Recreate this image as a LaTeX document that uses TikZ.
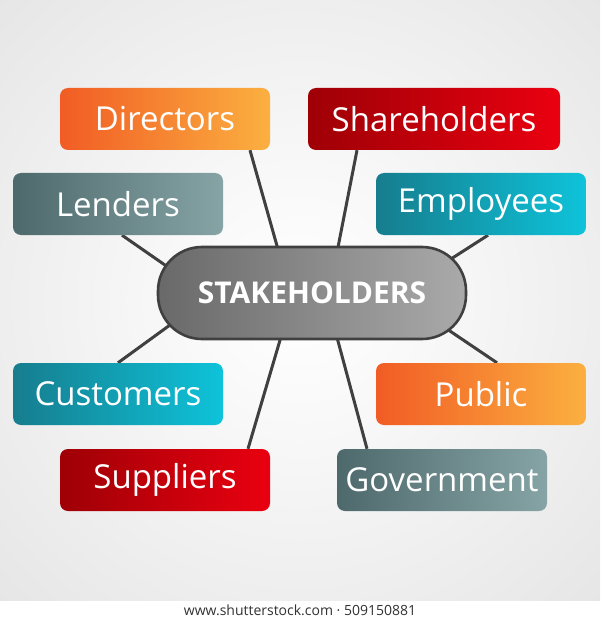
\documentclass[tikz,border=0pt]{standalone}
\usepackage{fontspec}
\setmainfont{Open Sans}
\usetikzlibrary{calc}
\definecolor{orA}{RGB}{241,92,36}
\definecolor{orB}{RGB}{251,176,64}
\definecolor{rdA}{RGB}{158,0,6}
\definecolor{rdB}{RGB}{234,0,16}
\definecolor{tlA}{RGB}{22,125,142}
\definecolor{tlB}{RGB}{14,195,218}
\definecolor{slA}{RGB}{78,105,108}
\definecolor{slB}{RGB}{134,164,165}
\definecolor{pillA}{RGB}{105,105,105}
\definecolor{pillB}{RGB}{170,170,170}
\definecolor{linec}{RGB}{64,64,64}
\definecolor{footc}{RGB}{50,50,50}
\pgfdeclareradialshading{bgshade}{\pgfpoint{0bp}{0bp}}{color(0bp)=(white); color(12bp)=(white!97!black); color(50bp)=(white!86!black); color(72bp)=(white!80!black)}
\pgfdeclarelayer{bglayer}
\pgfdeclarelayer{edgelayer}
\pgfsetlayers{bglayer,edgelayer,main}
\tikzset{
  box/.style={rectangle, rounded corners=8pt, minimum width=210pt, minimum height=62pt, inner sep=0pt, text=white, font=\fontsize{33}{36}\selectfont},
  orangebox/.style={box, left color=orA, right color=orB},
  redbox/.style={box, left color=rdA, right color=rdB},
  tealbox/.style={box, left color=tlA, right color=tlB},
  slatebox/.style={box, left color=slA, right color=slB},
  pill/.style={rectangle, rounded corners=44pt, minimum width=308pt, minimum height=92pt, inner sep=0pt, draw=linec, line width=2.6pt, left color=pillA, right color=pillB, text=white, font=\bfseries\fontsize{30}{33}\selectfont},
  conn/.style={draw=linec, line width=3pt}
}
\begin{document}
\begin{tikzpicture}[x=1pt,y=-1pt]
\useasboundingbox (0,0) rectangle (600,620);
\begin{pgfonlayer}{bglayer}
\fill[white] (0,0) rectangle (600,620);
\shade[shading=bgshade] (0,0) rectangle (600,600);
\end{pgfonlayer}
\node[pill] (center) at (312,293) {STAKEHOLDERS};
\node[orangebox] (dir) at (165,119) {Directors};
\node[redbox] (sha) at (434,119) [minimum width=252pt] {Shareholders};
\node[slatebox] (len) at (118,204) {Lenders};
\node[tealbox] (emp) at (481,204) {Employees};
\node[tealbox] (cus) at (118,394) {Customers};
\node[orangebox] (pub) at (481,394) {Public};
\node[redbox] (sup) at (165,480) {Suppliers};
\node[slatebox] (gov) at (442,480) {Government};
\coordinate (cdir) at (281,260);
\coordinate (csha) at (335.5,260);
\coordinate (clen) at (175,272);
\coordinate (cemp) at (440,266);
\coordinate (ccus) at (170,325);
\coordinate (cpub) at (441,325);
\coordinate (csup) at (283,330);
\coordinate (cgov) at (335,330);
\begin{pgfonlayer}{edgelayer}
\draw[conn] ([xshift=85pt]dir.south) -- (cdir);
\draw[conn] ([xshift=-77pt]sha.south) -- (csha);
\draw[conn] ([xshift=4pt]len.south) -- (clen);
\draw[conn] ([xshift=7pt]emp.south) -- (cemp);
\draw[conn] (cus.north) -- (ccus);
\draw[conn] ([xshift=16pt]pub.north) -- (cpub);
\draw[conn] ([xshift=83pt]sup.north) -- (csup);
\draw[conn] ([xshift=-75pt]gov.north) -- (cgov);
\end{pgfonlayer}
\node[text=footc, font=\fontsize{14}{16}\selectfont] (foot) at (300,610) {www.shutterstock.com · 509150881};
\end{tikzpicture}
\end{document}
